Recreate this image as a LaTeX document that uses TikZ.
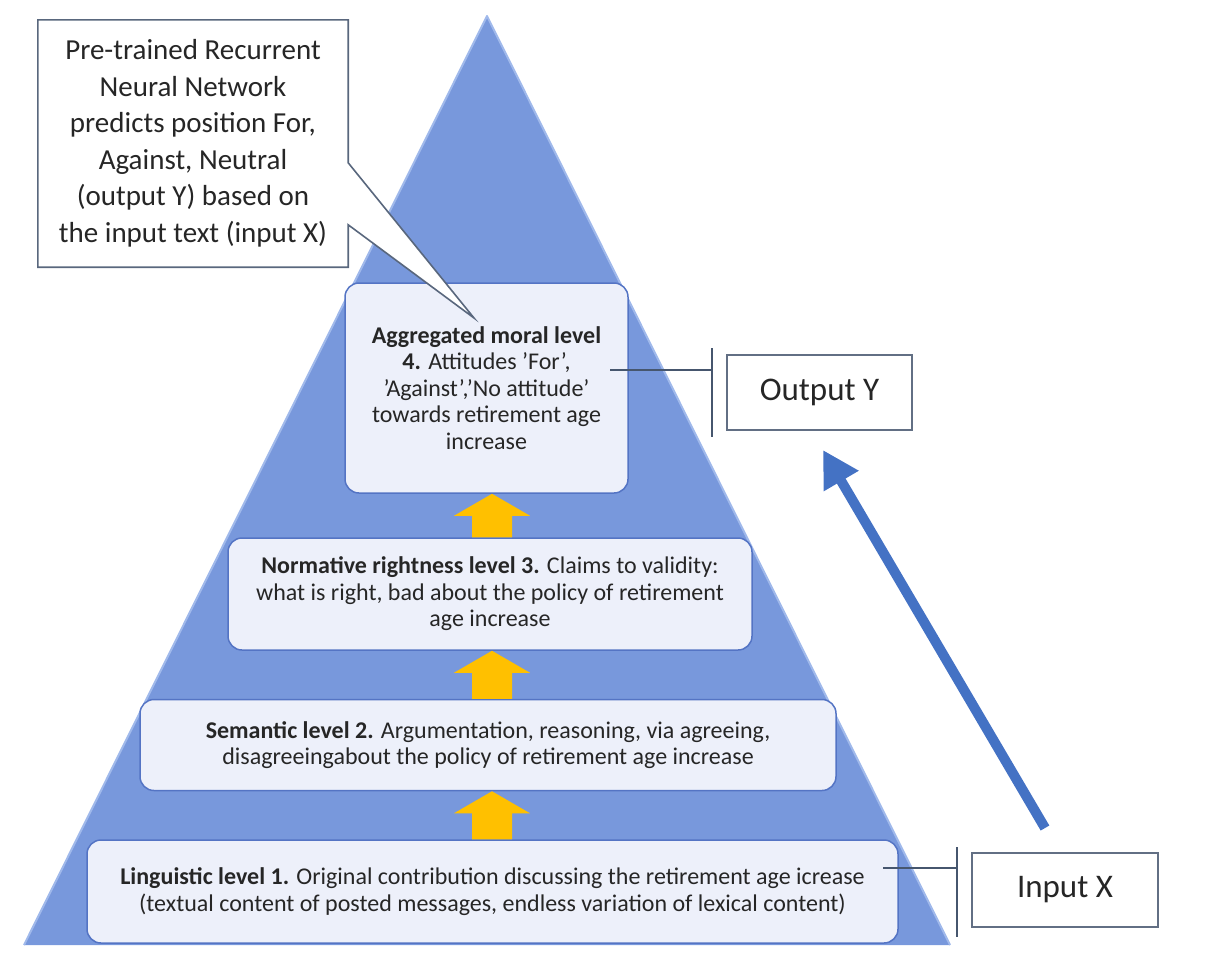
\documentclass[tikz,border=0pt]{standalone}
\usepackage{fontspec}
\setmainfont{Carlito}
\usetikzlibrary{arrows.meta,calc}
\definecolor{tri}{RGB}{120,152,220}
\definecolor{triedge}{RGB}{160,185,235}
\definecolor{boxfill}{RGB}{237,240,250}
\definecolor{boxedge}{RGB}{84,116,196}
\definecolor{linec}{RGB}{70,86,110}
\definecolor{arrowblue}{RGB}{68,114,196}
\definecolor{yel}{RGB}{255,192,0}
\definecolor{txt}{RGB}{38,38,38}
\newcommand\yarrow[2]{%
  \fill[yel] let \p1=(#1.south), \p2=(#2.north) in
    (472pt,\y2) -- (472pt,\y1-22pt) -- (454pt,\y1-22pt) -- (492pt,\y1)
    -- (530pt,\y1-22pt) -- (512pt,\y1-22pt) -- (512pt,\y2) -- cycle;}
\begin{document}
\begin{tikzpicture}[x=1pt,y=-1pt,
  level/.style={draw=boxedge, line width=1.5pt, fill=boxfill, rounded corners=14pt,
    align=center, inner sep=0pt, font=\fontsize{24}{26.5}\selectfont, text=txt},
  plainbox/.style={draw=linec!85, line width=1.8pt, fill=white, align=center,
    inner sep=0pt, font=\fontsize{33}{38}\selectfont, text=txt},
  bracket/.style={draw=linec, line width=1.5pt},
  callout/.style={draw=linec!90, line width=1.6pt, fill=white}
]
\useasboundingbox (0,0) rectangle (1214,954);

% pyramid
\fill[tri] (24,945) -- (487,16) -- (950,945) -- cycle;
\draw[triedge, line width=2pt, line join=round] (24,945) -- (487,16) -- (950,945);

% level boxes
\node[level, minimum width=283, minimum height=210] (l4) at (486.5,388)
  {\textbf{Aggregated moral level}\\\textbf{4.} Attitudes 'For',\\'Against','No attitude'\\towards retirement age\\increase};
\node[level, minimum width=524, minimum height=112] (l3) at (490,594)
  {\textbf{Normative rightness level 3.} Claims to validity:\\what is right, bad about the policy of retirement\\age increase};
\node[level, minimum width=696, minimum height=91] (l2) at (488,745)
  {\textbf{Semantic level 2.} Argumentation, reasoning, via agreeing,\\disagreeingabout the policy of retirement age increase};
\node[level, minimum width=811, minimum height=103] (l1) at (492.5,891.5)
  {\textbf{Linguistic level 1.} Original contribution discussing the retirement age icrease\\(textual content of posted messages, endless variation of lexical content)};

% yellow block arrows
\yarrow{l4}{l3}
\yarrow{l3}{l2}
\yarrow{l2}{l1}

% output / input boxes
\node[plainbox, minimum width=185, minimum height=75] (out) at (819.5,392.5) {Output Y};
\node[plainbox, minimum width=186, minimum height=74] (in) at (1065,890) {Input X};

\coordinate (oyA) at (610,370);
\coordinate (oyB) at (712,370);
\coordinate (oyT) at (712,348);
\coordinate (oyD) at (712,437);
\draw[bracket] (oyA) -- (oyB);
\draw[bracket] (oyT) -- (oyD);

\coordinate (ixA) at (883,868);
\coordinate (ixB) at (957,868);
\coordinate (ixT) at (957,847);
\coordinate (ixD) at (957,937);
\draw[bracket] (ixA) -- (ixB);
\draw[bracket] (ixT) -- (ixD);

% blue arrow
\coordinate (bs) at (1045,828);
\coordinate (be) at (823,450);
\draw[arrowblue, line width=10pt, -{Triangle[length=36pt,width=38pt]}] (bs) -- (be);

% callout
\node[minimum width=310, minimum height=247, inner sep=0pt] (call) at (193,143.5) {};
\coordinate (tip) at (474,318);
\path[callout, line join=miter] (call.north west) -- (call.north east) -- ($(call.north east)+(0,143)$)
  -- (tip) -- ($(call.north east)+(0,205)$) -- (call.south east) -- (call.south west) -- cycle;
\node[align=center, font=\fontsize{29}{36.5}\selectfont, text=txt] (calltext) at (call.center)
  {Pre-trained Recurrent\\Neural Network\\predicts position For,\\Against, Neutral\\(output Y) based on\\the input text (input X)};
\end{tikzpicture}
\end{document}
